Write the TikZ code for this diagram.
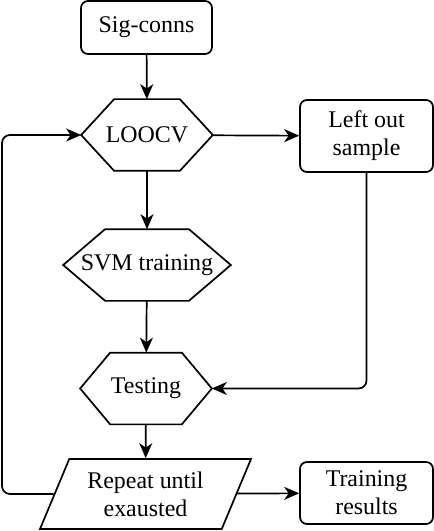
\documentclass[tikz,border=0pt]{standalone}
\usepackage{fontspec}
\setmainfont{Liberation Serif}
\usetikzlibrary{shapes.geometric,arrows.meta}
\begin{document}
\begin{tikzpicture}[x=1bp, y=-1bp, line width=1.7bp,
        every node/.style={font=\fontsize{24}{28}\selectfont, align=center, inner sep=2bp},
        box/.style={draw, rectangle, rounded corners=7bp},
        hexa/.style={rectangle, minimum height=70bp},
        para/.style={draw, trapezium, trapezium left angle=59, trapezium right angle=121,
            trapezium stretches body, minimum height=70bp},
        arr/.style={-{Stealth[length=15bp, width=13bp, inset=4.5bp]}}]
    \useasboundingbox (0,0) rectangle (434,531);
    \draw   (146.5,27.5) node [box, minimum width=131bp, minimum height=53bp] (sig) {Sig-conns}
            (147,135) node [hexa, minimum width=130bp] (loocv) {LOOCV}
            (366.5,136) node [box, minimum width=133bp, minimum height=72bp] (left) {Left out\\sample}
            (147,265) node [hexa, minimum width=166bp] (svm) {SVM training}
            (146,388.5) node [hexa, minimum width=130bp] (test) {Testing}
            (145.5,494) node [para, minimum width=211bp] (repeat) {Repeat until\\exausted}
            (366.5,493) node [box, minimum width=133bp, minimum height=62bp] (result) {Training\\results}
            (2,494) coordinate (loop)

            (sig) edge [arr] (loocv)
            (loocv) edge [arr] (left)
            (loocv) edge [arr] (svm)
            (svm) edge [arr] (test)
            (test) edge [arr] (repeat)
            (repeat) edge [arr] (result)
            ;
    % hexagon outlines, cut in from the corners
    \foreach \n/\c in {loocv/33, svm/42, test/30}
        \draw [line join=miter] (\n.west) -- ([xshift=\c bp]\n.north west) -- ([xshift=-\c bp]\n.north east)
            -- (\n.east) -- ([xshift=-\c bp]\n.south east) -- ([xshift=\c bp]\n.south west) -- cycle;
    \draw [arr, rounded corners=8bp] (left) |- (test);
    \draw [arr, rounded corners=8bp] (repeat.west) -- (loop) |- (loocv);
\end{tikzpicture}
\end{document}
